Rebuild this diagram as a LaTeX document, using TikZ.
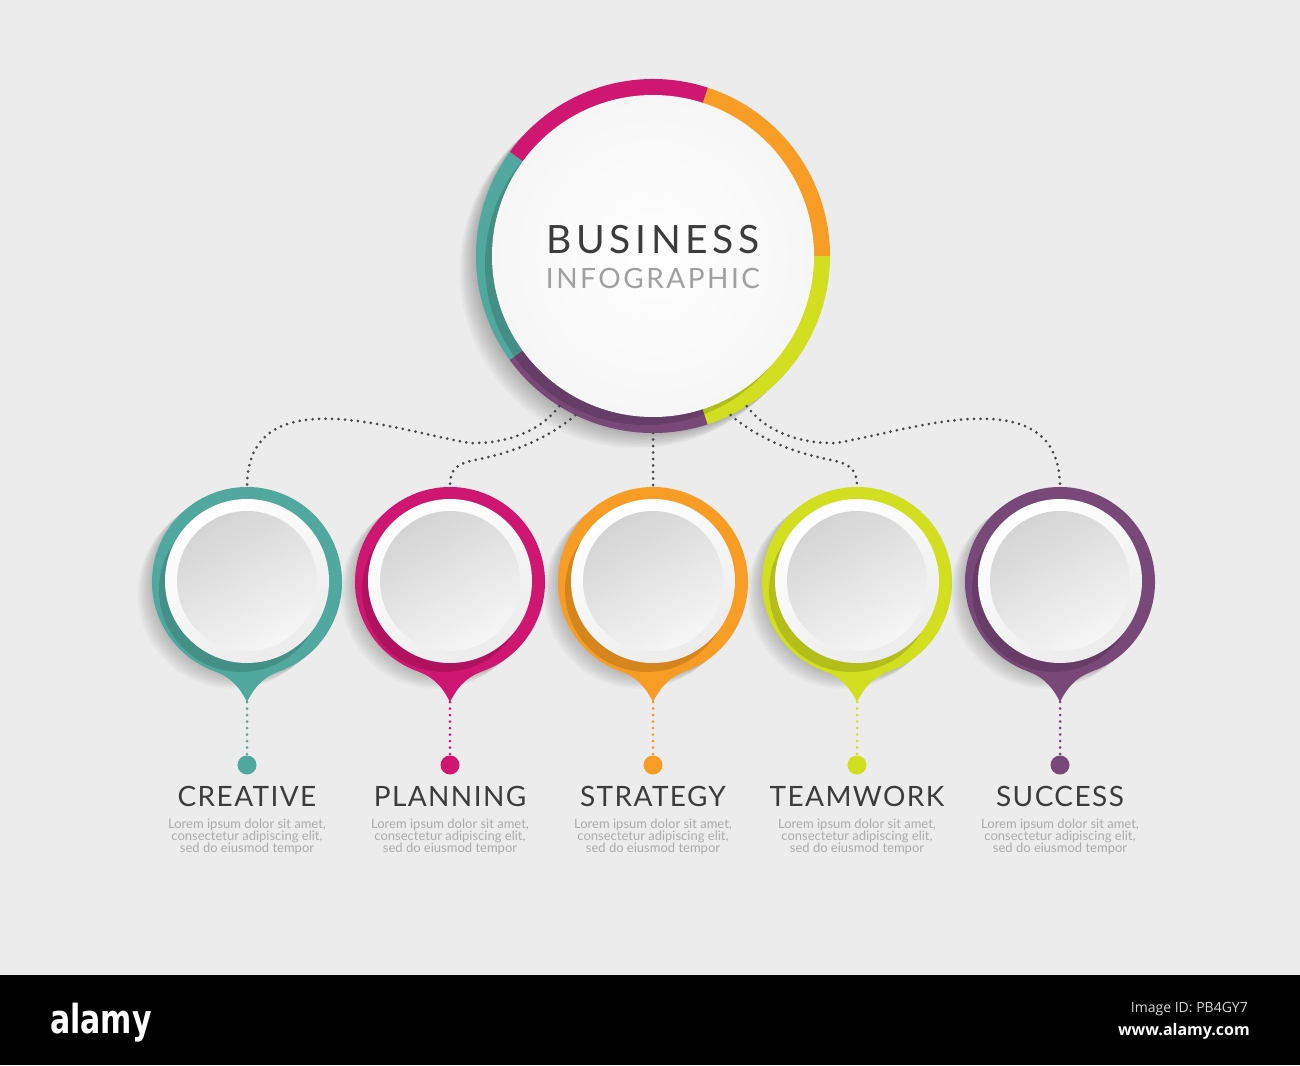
\documentclass[tikz,border=0pt]{standalone}
\usepackage{fontspec}
\setmainfont{Lato}
\newfontfamily\bandfont{DejaVu Sans}
\newfontfamily\idfont{Open Sans}

\definecolor{bg}{RGB}{236,236,236}
\definecolor{cteal}{RGB}{80,168,158}
\definecolor{cmagenta}{RGB}{207,22,112}
\definecolor{corange}{RGB}{247,156,36}
\definecolor{clime}{RGB}{210,222,32}
\definecolor{cpurple}{RGB}{120,72,120}
\definecolor{dotgrey}{RGB}{72,72,72}
\definecolor{headgrey}{RGB}{60,60,60}
\definecolor{subgrey}{RGB}{160,160,160}
\definecolor{loremgrey}{RGB}{172,172,172}
\definecolor{discgrey}{RGB}{212,212,212}
\definecolor{disclight}{RGB}{246,246,246}

\tikzset{
  dotline/.style={dotgrey, line width=3pt, line cap=round, dash pattern=on 0pt off 6.5pt},
  shadowlayer/.style={black, opacity=.022},
  hub/.style={circle, minimum size=354pt, inner sep=0pt, outer sep=0pt},
  pin/.style={circle, minimum size=190pt, inner sep=0pt, outer sep=0pt},
  endball/.style={circle, minimum size=19pt, inner sep=0pt, outer sep=0pt}
}

\begin{document}
\begin{tikzpicture}[x=1pt,y=1pt]
  \useasboundingbox (0,0) rectangle (1300,-1065);
  \fill[bg] (0,0) rectangle (1300,-1065);

  % hub
  \node[hub] (main) at (653,-256) {};
  \foreach \k in {0,...,11}
    \fill[shadowlayer] (653-1.5*\k,-256-1.4*\k) circle (177);
  \foreach \a/\col in {0/corange,72/cmagenta,144/cteal,216/cpurple,288/clime}
    \fill[\col] (main.center) -- ++(\a:177) arc[start angle=\a, end angle=\a+72, radius=177] -- cycle;
  \fill[black, opacity=.15] ([shift={(-7,-8)}]main.center) circle (161);
  \shade[inner color=white, outer color=disclight] (main.center) circle (161);
  \node[anchor=base, headgrey, font=\fontsize{39}{39}\selectfont\addfontfeatures{LetterSpace=12}] (title) at (653,-253) {BUSINESS};
  \node[anchor=base, subgrey, font=\fontsize{28}{28}\selectfont\addfontfeatures{LetterSpace=9}] (subtitle) at (653,-288) {INFOGRAPHIC};

  % five pins
  \foreach \x/\col/\nm/\txt in {247/cteal/creative/CREATIVE, 450/cmagenta/planning/PLANNING, 653/corange/strategy/STRATEGY, 857/clime/teamwork/TEAMWORK, 1060/cpurple/success/SUCCESS}{
    \foreach \k in {0,...,9}
      \fill[shadowlayer] (\x-1.6*\k,-582-1.3*\k) circle (95);
    \fill[\col] (\x,-582) ++(-70:95) arc[start angle=-70, end angle=250, radius=95]
      .. controls (\x-14,-678) and (\x-6,-690) .. (\x,-702)
      .. controls (\x+6,-690) and (\x+14,-678) .. cycle;
    \node[pin] (\nm) at (\x,-582) {};
    \coordinate (tip\nm) at (\x,-702);
    \fill[black, opacity=.14] (\x-6,-590) circle (82);
    \shade[top color=white, bottom color=bg, shading angle=30] (\x,-581) circle (82);
    \shade[top color=discgrey, bottom color=disclight, shading angle=30] (\x,-581) circle (70);
    \node[endball, fill=\col] (dot\nm) at (\x,-765) {};
    \draw[dotline, \col] (tip\nm) -- (dot\nm);
    \node[anchor=base, headgrey, font=\fontsize{28}{28}\selectfont\addfontfeatures{LetterSpace=5}] (label\nm) at (\x,-806) {\txt};
    \node[anchor=north, loremgrey, align=center, inner sep=0pt, font=\fontsize{13}{12}\selectfont] (text\nm) at (\x,-819)
      {Lorem ipsum dolor sit amet,\\consectetur adipiscing elit,\\sed do eiusmod tempor};
  }

  % connectors
  \draw[dotline] (main.238) .. controls (540,-432) and (505,-444) .. (470,-443)
    .. controls (400,-432) and (247,-375) .. (creative.north);
  \draw[dotline] (main.244) .. controls (540,-445) and (500,-455) .. (475,-460)
    .. controls (455,-464) and (450,-470) .. (planning.north);
  \draw[dotline] (main.south) -- (strategy.north);
  \draw[dotline] (main.296) .. controls (766,-445) and (806,-455) .. (831,-460)
    .. controls (851,-464) and (857,-470) .. (teamwork.north);
  \draw[dotline] (main.302) .. controls (766,-432) and (801,-444) .. (836,-443)
    .. controls (906,-432) and (1060,-375) .. (success.north);

  % band
  \fill[black] (0,-975) rectangle (1300,-1065);
  \node[anchor=base west, white, inner sep=0pt, font=\bandfont\bfseries\fontsize{40}{40}\selectfont] (logo) at (50,-1033) {\scalebox{0.75}[1]{alamy}};
  \node[anchor=base east, white!85!black, inner sep=0pt, font=\idfont\fontsize{14}{14}\selectfont] (imageid) at (1248,-1012) {Image ID: PB4GY7};
  \node[anchor=base east, white, inner sep=0pt, font=\idfont\bfseries\fontsize{16}{16}\selectfont] (website) at (1250,-1035) {www.alamy.com};
\end{tikzpicture}
\end{document}
